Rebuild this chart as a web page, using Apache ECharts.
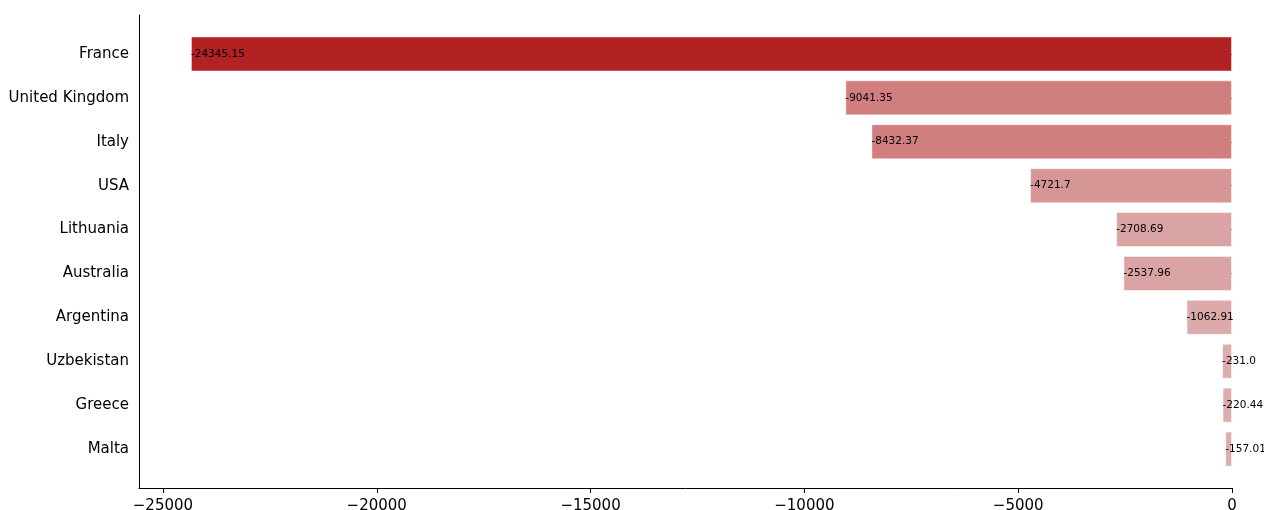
<!DOCTYPE html>
<html>
<head>
<meta charset="utf-8">
<script src="https://cdn.jsdelivr.net/npm/echarts@6/dist/echarts.min.js"></script>
<style>
html,body{margin:0;padding:0;background:#fff;}
#chart{width:1264px;height:510px;}
</style>
</head>
<body>
<div id="chart"></div>
<script>
const categories = ["France","United Kingdom","Italy","USA","Lithuania","Australia","Argentina","Uzbekistan","Greece","Malta"];
const values = [-24345.15,-9041.35,-8432.37,-4721.7,-2708.69,-2537.96,-1062.91,-231.0,-220.44,-157.01];
const barColors = ["#B22222","#D07E7E","#D07E7E","#D69696","#DAA4A4","#DAA4A4","#DCAAAA","#DDADAD","#DDADAD","#DDADAD"];
const xTicks = [-25000,-20000,-15000,-10000,-5000,0];

function pyFloat(v){ return Number.isInteger(v) ? v.toFixed(1) : String(v); }

const FONT = "'DejaVu Sans'";
const XMIN = -25560, XMAX = 0;
const chart = echarts.init(document.getElementById('chart'), null, {renderer:'canvas'});
chart.setOption({
  animation:false,
  backgroundColor:'#fff',
  grid:[
    {left:139, width:1093, top:15, height:473, outerBoundsMode:'none', containLabel:false},
    {left:139, width:1093, top:32, height:439, outerBoundsMode:'none', containLabel:false}
  ],
  xAxis:[
    {gridIndex:0, type:'value', min:XMIN, max:XMAX,
     axisLine:{show:true, lineStyle:{color:'#000', width:1}},
     axisTick:{show:true, length:5, lineStyle:{color:'#000'}, customValues:xTicks},
     axisLabel:{show:true, fontFamily:FONT, fontSize:15, color:'#000', margin:11, customValues:xTicks,
       formatter:v=>String(v).replace('-','\u2212')},
     splitLine:{show:false}},
    {gridIndex:1, type:'value', min:XMIN, max:XMAX, show:false}
  ],
  yAxis:[
    {gridIndex:0, type:'value', min:0, max:1,
     axisLine:{show:true, onZero:false, lineStyle:{color:'#000', width:1}},
     axisTick:{show:false}, axisLabel:{show:false}, splitLine:{show:false}},
    {gridIndex:1, type:'category', data:categories, inverse:true,
     axisLine:{show:false},
     axisTick:{show:true, alignWithLabel:true, length:5, lineStyle:{color:'#000'}},
     axisLabel:{fontFamily:FONT, fontSize:15, color:'#000', margin:10, verticalAlign:'middle', padding:[5,0,0,0]},
     splitLine:{show:false}}
  ],
  series:[{
    type:'bar', xAxisIndex:1, yAxisIndex:1,
    barWidth:35,
    data: values.map((v,i)=>({value:v, itemStyle:{color:barColors[i]}})),
    itemStyle:{borderColor:'rgba(255,255,255,0.45)', borderWidth:1},
    label:{show:true, position:'insideLeft', distance:0, fontFamily:FONT, fontSize:10.5, color:'#000',
      formatter:p=>pyFloat(p.value)}
  }]
});
</script>
</body>
</html>
